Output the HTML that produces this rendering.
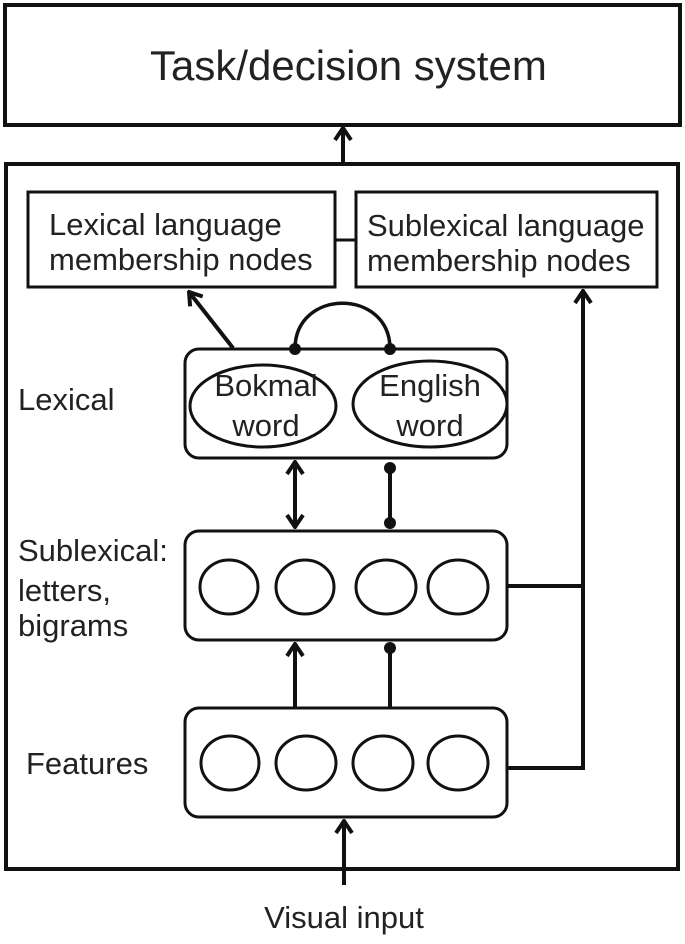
<!DOCTYPE html>
<html><head><style>
body{margin:0;background:#fff}
text{font-family:"Liberation Sans",sans-serif;fill:#222}
</style></head><body>
<svg width="685" height="939" viewBox="0 0 685 939" xmlns="http://www.w3.org/2000/svg">
<defs>
<marker id="a" markerWidth="16" markerHeight="20" refX="14" refY="10" orient="auto-start-reverse" markerUnits="userSpaceOnUse">
<path d="M2,2 L14,10 L2,18" fill="none" stroke="#111" stroke-width="4"/>
</marker>
</defs>
<g fill="none" stroke="#111" stroke-width="4">
<rect x="5" y="5" width="675" height="120"/>
<rect x="6" y="164" width="672" height="705"/>
<rect x="28" y="192" width="307" height="95" stroke-width="3"/>
<rect x="356" y="192" width="301" height="95" stroke-width="3"/>
<line x1="335" y1="240" x2="356" y2="240" stroke-width="3"/>
<rect x="185" y="349" width="322" height="109" rx="14" stroke-width="3"/>
<rect x="185" y="531" width="322" height="109" rx="14" stroke-width="3"/>
<rect x="185" y="708" width="322" height="109" rx="14" stroke-width="3"/>
<ellipse cx="263" cy="406" rx="73" ry="41" stroke-width="3"/>
<ellipse cx="430" cy="404" rx="77" ry="43" stroke-width="3"/>
<g stroke-width="3">
<ellipse cx="229" cy="587" rx="29" ry="27"/><ellipse cx="305" cy="587" rx="29" ry="27"/><ellipse cx="386" cy="587" rx="30" ry="27"/><ellipse cx="458" cy="587" rx="30" ry="27"/>
<ellipse cx="230" cy="763" rx="29" ry="27"/><ellipse cx="306" cy="763" rx="30" ry="27"/><ellipse cx="383" cy="763" rx="30" ry="27"/><ellipse cx="458" cy="763" rx="30" ry="27"/>
</g>
<line x1="343" y1="164" x2="343" y2="128" marker-end="url(#a)"/>
<line x1="233" y1="348" x2="189" y2="292" marker-end="url(#a)"/>
<path d="M295,349 C295,288 390,288 390,349" stroke-width="3.5"/>
<line x1="295" y1="462" x2="295" y2="527" marker-start="url(#a)" marker-end="url(#a)"/>
<line x1="390" y1="468" x2="390" y2="523"/>
<line x1="295" y1="708" x2="295" y2="644" marker-end="url(#a)"/>
<line x1="390" y1="708" x2="390" y2="648"/>
<line x1="344" y1="885" x2="344" y2="821" marker-end="url(#a)"/>
<polyline points="507,586 583,586"/>
<polyline points="507,768 583,768 583,291" marker-end="url(#a)"/>
</g>
<g fill="#111">
<circle cx="295" cy="349" r="6"/><circle cx="390" cy="349" r="6"/>
<circle cx="390" cy="468" r="6"/><circle cx="390" cy="523" r="6"/>
<circle cx="390" cy="648" r="6"/>
</g>
<text x="150" y="80" font-size="42">Task/decision system</text>
<text x="49" y="235" font-size="31">Lexical language</text>
<text x="49" y="270" font-size="31">membership nodes</text>
<text x="367" y="236" font-size="31">Sublexical language</text>
<text x="367" y="271" font-size="31">membership nodes</text>
<text x="266" y="396" font-size="31" text-anchor="middle">Bokmal</text>
<text x="266" y="436" font-size="31" text-anchor="middle">word</text>
<text x="430" y="396" font-size="31" text-anchor="middle">English</text>
<text x="430" y="436" font-size="31" text-anchor="middle">word</text>
<text x="18" y="410" font-size="31">Lexical</text>
<text x="18" y="561" font-size="31">Sublexical:</text>
<text x="18" y="601" font-size="31">letters,</text>
<text x="18" y="636" font-size="31">bigrams</text>
<text x="26" y="774" font-size="31">Features</text>
<text x="344" y="928" font-size="31" text-anchor="middle">Visual input</text>
</svg>
</body></html>
